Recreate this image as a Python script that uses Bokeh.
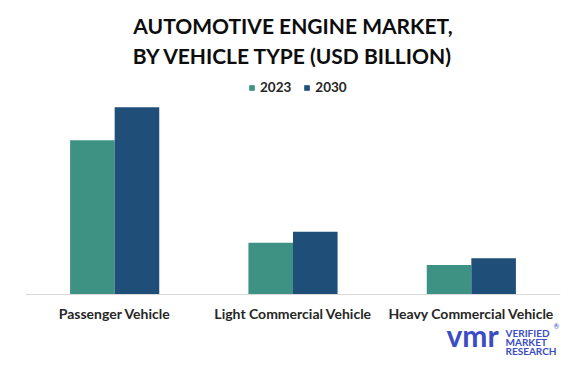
from bokeh.plotting import figure
from bokeh.models import (Range1d, FactorRange, Label, Legend, LegendItem,
                          ColumnDataSource)
from bokeh.transform import dodge
from bokeh.embed import file_html
from bokeh.resources import INLINE

# ---- data ----
categories = ["Passenger Vehicle", "Light Commercial Vehicle", "Heavy Commercial Vehicle"]
series_names = ["2023", "2030"]
values_2023 = [77.1, 25.9, 14.8]
values_2030 = [93.6, 31.4, 18.1]
colors = ["#3d9283", "#1f4e79"]
title_lines = ["AUTOMOTIVE ENGINE MARKET,", "BY VEHICLE TYPE (USD BILLION)"]

W, H = 563, 355
LEFT, RIGHT = 25, 3
BASE = 294          # pixel row of the value axis zero line
PX_PER_UNIT = 2.0

src = ColumnDataSource(dict(cat=categories, v2023=values_2023, v2030=values_2030))

p = figure(width=W, height=H, output_backend="svg", toolbar_location=None,
           x_range=FactorRange(*categories, range_padding=0),
           y_range=Range1d(-(H - BASE) / PX_PER_UNIT, BASE / PX_PER_UNIT),
           min_border_left=LEFT, min_border_right=RIGHT,
           min_border_bottom=0, min_border_top=0)
p.outline_line_color = None
p.xgrid.visible = False
p.ygrid.visible = False
p.yaxis.visible = False
p.background_fill_color = "white"
p.border_fill_color = "white"

r1 = p.vbar(x=dodge("cat", -0.125, range=p.x_range), top="v2023", width=0.25,
            source=src, fill_color=colors[0], line_color=None)
r2 = p.vbar(x=dodge("cat", 0.125, range=p.x_range), top="v2030", width=0.25,
            source=src, fill_color=colors[1], line_color=None)

ax = p.xaxis[0]
ax.fixed_location = 0
ax.axis_line_color = "#d9d9d9"
ax.axis_line_width = 1
ax.major_tick_line_color = None
ax.minor_tick_line_color = None
ax.major_tick_out = 0
ax.major_tick_in = 0
ax.major_label_standoff = 10
ax.major_label_text_font = "Lato"
ax.major_label_text_font_size = "14px"
ax.major_label_text_font_style = "bold"
ax.major_label_text_color = "#262626"


def fx(x):
    return x - LEFT


def fy(y):
    return H - y


for i, t in enumerate(title_lines):
    p.add_layout(Label(x=fx(292.5), y=fy(25.4 + 29.5 * i), x_units="screen", y_units="screen",
                       text=t, text_align="center", text_baseline="middle",
                       text_font="Lato", text_font_style="bold", text_font_size="21px",
                       text_color="#0d0d0d"))

legend = Legend(items=[LegendItem(label=series_names[0], renderers=[r1]),
                       LegendItem(label=series_names[1], renderers=[r2])],
                orientation="horizontal", location=(fx(248), fy(87) - 8),
                glyph_width=7, glyph_height=7, label_standoff=5, spacing=12,
                padding=0, margin=0, label_height=16,
                label_text_font="Lato", label_text_font_style="bold",
                label_text_font_size="13.5px", label_text_color="#262626",
                border_line_color=None, background_fill_alpha=0)
p.add_layout(legend, "center")

# ---- logo ----
blue = "#3b4cc4"
p.add_layout(Label(x=fx(446), y=fy(334), x_units="screen", y_units="screen",
                   text="vmr", text_align="left", text_baseline="middle",
                   text_font="Lato", text_font_style="bold", text_font_size="30px",
                   text_color=blue))
for i, t in enumerate(["VERIFIED", "MARKET", "RESEARCH"]):
    p.add_layout(Label(x=fx(505), y=fy(332 + 9 * i), x_units="screen", y_units="screen",
                       text=t, text_align="left", text_baseline="middle",
                       text_font="Lato", text_font_style="bold", text_font_size="10px",
                       text_color=blue))
p.add_layout(Label(x=fx(556), y=fy(325), x_units="screen", y_units="screen",
                   text="®", text_align="center", text_baseline="middle",
                   text_font="Lato", text_font_size="7px", text_color=blue))

open("out.html", "w").write(file_html(p, INLINE))
